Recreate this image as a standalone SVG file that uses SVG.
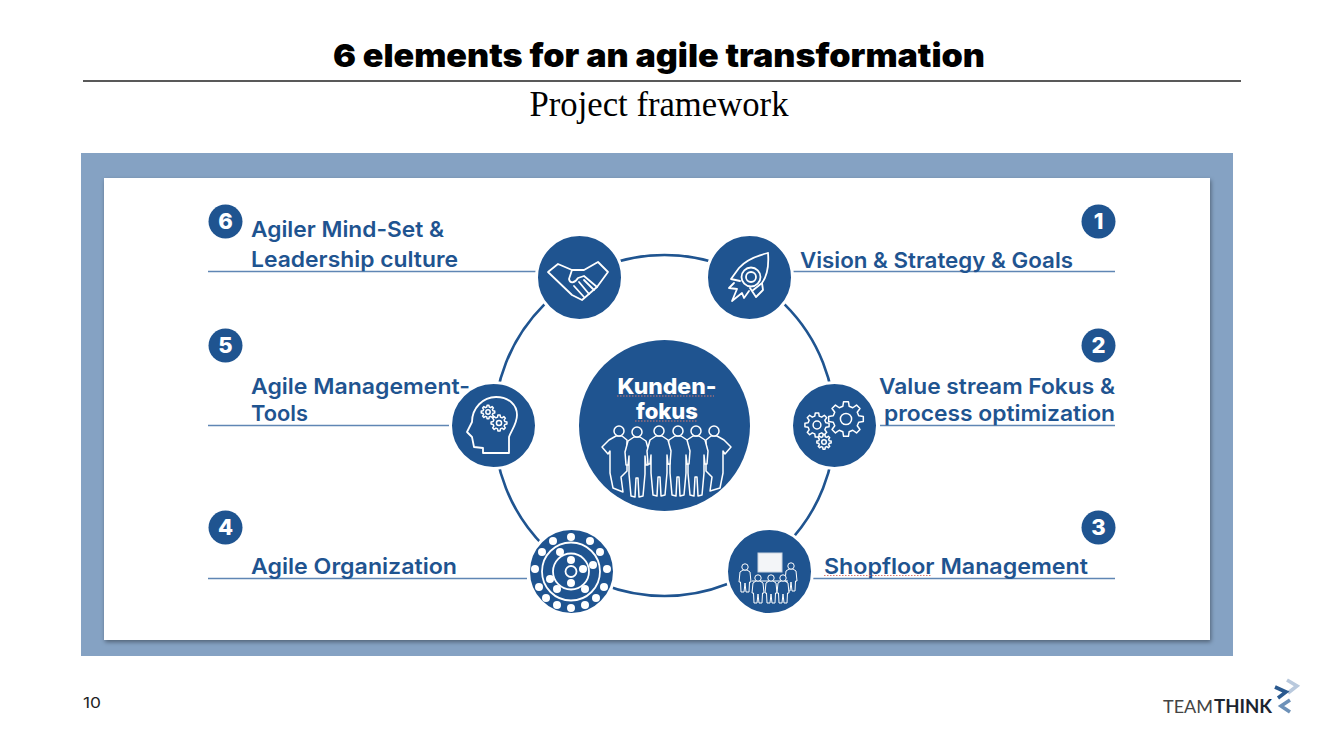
<svg xmlns="http://www.w3.org/2000/svg" width="1320" height="737" viewBox="0 0 1320 737">
  <style>
    .disc { fill: #1f5490; stroke: #fff; stroke-width: 3; }
    .ico { fill: none; stroke: #fff; stroke-width: 1.8; stroke-linejoin: round; stroke-linecap: round; }
    .icf { fill: #1f5490; stroke: #fff; stroke-width: 1.5; stroke-linejoin: round; vector-effect: non-scaling-stroke; }
    .ics { fill: #1f5490; stroke: #fff; stroke-width: 1; stroke-linejoin: round; }
    .lab { font-family: Inter, "Liberation Sans", sans-serif; font-weight: 600; font-size: 22px; fill: #1f5490; }
    .num { font-family: Inter, "Liberation Sans", sans-serif; font-weight: 800; font-size: 22px; fill: #fff; text-anchor: middle; }
    .badge { fill: #1f5490; }
    .rule { stroke: #5f86b4; stroke-width: 1.3; fill: none; }
    .dot { fill: #fff; }
    .spell { stroke: #d9796f; stroke-width: 1; stroke-dasharray: 1.5 1.5; fill: none; }
  </style>
  <defs>
    <filter id="soft" x="-5%" y="-5%" width="110%" height="110%">
      <feDropShadow dx="1" dy="2" stdDeviation="2" flood-color="#000" flood-opacity="0.4"/>
    </filter>
    <g id="gear">
      <polygon class="icf" points="7.28,-1.81 9.9,-1.39 9.9,1.39 7.28,1.81 6.43,3.86 7.99,6.02 6.02,7.99 3.86,6.43 1.81,7.28 1.39,9.9 -1.39,9.9 -1.81,7.28 -3.86,6.43 -6.02,7.99 -7.99,6.02 -6.43,3.86 -7.28,1.81 -9.9,1.39 -9.9,-1.39 -7.28,-1.81 -6.43,-3.86 -7.99,-6.02 -6.02,-7.99 -3.86,-6.43 -1.81,-7.28 -1.39,-9.9 1.39,-9.9 1.81,-7.28 3.86,-6.43 6.02,-7.99 7.99,-6.02 6.43,-3.86"/>
      <circle class="icf" r="3.2"/>
    </g>
    <!-- standing figure, head at the origin -->
    <g id="person">
      <path class="icf" d="M-3,5 L-9,9 L-12,20 L-11,33 L-9,33 L-8,24 L-8,42 L-6,64 L-2,65 L-1,46 L1,46 L2,65 L6,64 L8,42 L8,24 L9,33 L11,33 L12,20 L9,9 L3,5 Z"/>
      <circle class="icf" cx="0" cy="0" r="5"/>
    </g>
    <!-- end figures with an elbow held out -->
    <g id="person-left">
      <path class="icf" d="M-3,5 L-10,9 L-17,16 L-11,23 L-9,20 L-9,42 L-6,57 L4,61 L2,46 L8,40 L8,9 L3,5 Z"/>
      <circle class="icf" cx="0" cy="0" r="5"/>
    </g>
    <g id="person-right">
      <path class="icf" d="M-3,5 L-8,9 L-8,40 L-2,46 L-4,60 L6,57 L9,42 L9,20 L11,23 L17,16 L10,9 L3,5 Z"/>
      <circle class="icf" cx="0" cy="0" r="5"/>
    </g>
    <g id="mini">
      <path class="ics" d="M-2,3 L-5,5 L-6,15 L-4.5,15 L-4,25 L-1,25 L0,16 L1,25 L4,25 L4.5,15 L6,15 L5,5 L2,3 Z"/>
      <circle class="ics" r="3.2"/>
    </g>
  </defs>

  <!-- page heading -->
  <g id="heading">
    <text x="659" y="67" text-anchor="middle" textLength="652" lengthAdjust="spacingAndGlyphs" font-family="Inter, 'Liberation Sans', sans-serif" font-weight="900" font-size="32" fill="#000">6 elements for an agile transformation</text>
    <line x1="83" y1="81" x2="1241" y2="81" stroke="#222" stroke-width="1.4"/>
    <text x="659" y="116" text-anchor="middle" textLength="259" lengthAdjust="spacingAndGlyphs" font-family="'Liberation Serif', serif" font-size="36" fill="#000">Project framework</text>
  </g>

  <!-- panel -->
  <g id="panel">
    <rect x="81" y="153" width="1152" height="503" fill="#85a2c3"/>
    <rect x="104" y="178" width="1106" height="462" fill="#fff" filter="url(#soft)"/>
  </g>

  <!-- connectors: ring and leader rules -->
  <g id="connectors">
    <circle cx="664.5" cy="425.5" r="170.5" fill="none" stroke="#1f5490" stroke-width="2.6"/>
    <line class="rule" x1="208" y1="271.5" x2="536" y2="271.5"/>
    <line class="rule" x1="793" y1="271.5" x2="1115" y2="271.5"/>
    <line class="rule" x1="208" y1="425.5" x2="450" y2="425.5"/>
    <line class="rule" x1="880" y1="425.5" x2="1115" y2="425.5"/>
    <line class="rule" x1="208" y1="578.5" x2="527" y2="578.5"/>
    <line class="rule" x1="812" y1="578.5" x2="1115" y2="578.5"/>
  </g>

  <g id="center">
    <circle cx="664.5" cy="425.5" r="85.5" fill="#1f5490"/>
    <text x="667" y="394" text-anchor="middle" textLength="99" lengthAdjust="spacingAndGlyphs" font-family="Inter, 'Liberation Sans', sans-serif" font-weight="800" font-size="22" fill="#fff">Kunden-</text>
    <text x="667" y="419" text-anchor="middle" textLength="62" lengthAdjust="spacingAndGlyphs" font-family="Inter, 'Liberation Sans', sans-serif" font-weight="800" font-size="22" fill="#fff">fokus</text>
    <line class="spell" x1="617" y1="396" x2="714" y2="396"/>
    <line class="spell" x1="635" y1="421" x2="698" y2="421"/>
    <use href="#person-left" transform="translate(619,431)"/>
    <use href="#person-right" transform="translate(714,431)"/>
    <use href="#person" transform="translate(637,432)"/>
    <use href="#person" transform="translate(696,431)"/>
    <use href="#person" transform="translate(678,431)"/>
    <use href="#person" transform="translate(659,431)"/>
  </g>

  <g id="node-1">
    <circle class="disc" cx="749.5" cy="277.5" r="43"/>
    <path class="ico" d="M768,253 C756,256 745,261 739,268 L731,279 L740,281 M768,253 C769,265 767,276 762,283 L752,291 L750,288 M762,283 L763,290 L756,297 L752,291"/>
    <path class="ico" d="M734,283 L729,288 L737,289 L732,301 L742,293 L744,298 L749,291"/>
    <circle class="ico" cx="751" cy="277" r="9.5"/>
    <circle class="ico" cx="751" cy="277" r="5"/>
  </g>

  <g id="node-2">
    <circle class="disc" cx="834.5" cy="425.5" r="43"/>
    <use href="#gear" transform="translate(846,419) scale(1.75)"/>
    <use href="#gear" transform="translate(817,425) scale(1.22)"/>
    <use href="#gear" transform="translate(824,442) scale(.72)"/>
  </g>

  <g id="node-3">
    <circle class="disc" cx="769.5" cy="571.5" r="43"/>
    <rect x="758" y="553" width="24" height="19" fill="#f3f5f8" stroke="#c9d3e0" stroke-width="1"/>
    <use href="#mini" transform="translate(745,567)"/>
    <use href="#mini" transform="translate(791,566)"/>
    <line x1="752" y1="581" x2="788" y2="581" stroke="#fff" stroke-width="1"/>
    <use href="#mini" transform="translate(758,578)"/>
    <use href="#mini" transform="translate(771,578)"/>
    <use href="#mini" transform="translate(783,578)"/>
  </g>

  <g id="node-4">
    <circle class="disc" cx="571.5" cy="571.5" r="43"/>
    <circle class="ico" cx="571" cy="571.5" r="29" stroke-width="1.2"/>
    <circle class="ico" cx="571" cy="571.5" r="18" stroke-width="1.2"/>
    <circle class="ico" cx="571" cy="571.5" r="5.5" stroke-width="1.2"/>
    <g class="dot">
      <circle cx="571" cy="537" r="4"/><circle cx="590" cy="541" r="4"/><circle cx="600" cy="552" r="4"/><circle cx="607" cy="569" r="4"/><circle cx="604" cy="587" r="4"/><circle cx="596" cy="598" r="4"/><circle cx="585" cy="605" r="4"/><circle cx="571" cy="608" r="4"/><circle cx="557" cy="605" r="4"/><circle cx="546" cy="598" r="4"/><circle cx="539" cy="587" r="4"/><circle cx="535" cy="569" r="4"/><circle cx="542" cy="552" r="4"/><circle cx="553" cy="541" r="4"/>
      <circle cx="560" cy="552" r="4"/><circle cx="593" cy="565" r="4"/><circle cx="585" cy="589" r="4"/><circle cx="557" cy="589" r="4"/><circle cx="550" cy="579" r="4"/>
      <circle cx="571" cy="560" r="4"/><circle cx="583" cy="569" r="4"/><circle cx="571" cy="583" r="4"/>
    </g>
  </g>

  <g id="node-5">
    <circle class="disc" cx="493.5" cy="425.5" r="43"/>
    <path class="ico" d="M483,453 L483,448 L474,447 L472,437 L467,432 L472,422 C472,408 483,397 496,397 C509,397 517,405 517,415 C517,424 511,431 509,437 L509,453 Z"/>
    <use href="#gear" transform="translate(488,412) scale(.68)"/>
    <use href="#gear" transform="translate(499,423) scale(.8)"/>
  </g>

  <g id="node-6">
    <circle class="disc" cx="579.5" cy="277.5" r="43"/>
    <path class="ico" stroke-width="2" d="M548,272 L558,264 L572,270 L584,270 L598,262 L608,272 L597,287 L582,300 L572,295 Z"/>
    <path class="ico" stroke-width="2" d="M572,270 L569,279 C570,284 575,283 578,278 L584,276 L597,287"/>
    <path class="ico" stroke-width="2" d="M574,286 L584,297 M579,282 L589,294 M584,280 L594,290"/>
  </g>

  <!-- numbered labels -->
  <g id="label-1">
    <circle class="badge" cx="1098.5" cy="221.5" r="17"/><text class="num" x="1098.5" y="229">1</text>
    <text class="lab" x="800" y="268" textLength="273" lengthAdjust="spacingAndGlyphs">Vision &amp; Strategy &amp; Goals</text>
  </g>
  <g id="label-2">
    <circle class="badge" cx="1098.5" cy="345.5" r="17"/><text class="num" x="1098.5" y="353">2</text>
    <text class="lab" x="879" y="394" textLength="236" lengthAdjust="spacingAndGlyphs">Value stream Fokus &amp;</text>
    <text class="lab" x="884" y="421" textLength="231" lengthAdjust="spacingAndGlyphs">process optimization</text>
  </g>
  <g id="label-3">
    <circle class="badge" cx="1098.5" cy="527.5" r="17"/><text class="num" x="1098.5" y="535">3</text>
    <text class="lab" x="824" y="574" textLength="264" lengthAdjust="spacingAndGlyphs">Shopfloor Management</text>
    <line class="spell" x1="824" y1="575.5" x2="932" y2="575.5"/>
  </g>
  <g id="label-4">
    <circle class="badge" cx="225.5" cy="527.5" r="17"/><text class="num" x="225.5" y="535">4</text>
    <text class="lab" x="251" y="574" textLength="206" lengthAdjust="spacingAndGlyphs">Agile Organization</text>
  </g>
  <g id="label-5">
    <circle class="badge" cx="225.5" cy="345.5" r="17"/><text class="num" x="225.5" y="353">5</text>
    <text class="lab" x="251" y="394" textLength="219" lengthAdjust="spacingAndGlyphs">Agile Management-</text>
    <text class="lab" x="251" y="421" textLength="57" lengthAdjust="spacingAndGlyphs">Tools</text>
  </g>
  <g id="label-6">
    <circle class="badge" cx="225.5" cy="221.5" r="17"/><text class="num" x="225.5" y="229">6</text>
    <text class="lab" x="251" y="237" textLength="193" lengthAdjust="spacingAndGlyphs">Agiler Mind-Set &amp;</text>
    <text class="lab" x="251" y="267" textLength="207" lengthAdjust="spacingAndGlyphs">Leadership culture</text>
  </g>

  <!-- footer -->
  <g id="footer">
    <text x="83" y="708" textLength="18" lengthAdjust="spacingAndGlyphs" font-family="Inter, 'Liberation Sans', sans-serif" font-size="15" fill="#222">10</text>
    <text x="1163" y="713" font-family="Lato, 'Liberation Sans', sans-serif" font-size="18" fill="#444" textLength="50" lengthAdjust="spacingAndGlyphs">TEAM</text>
    <text x="1214" y="713" font-family="Lato, 'Liberation Sans', sans-serif" font-weight="700" font-size="18" fill="#1c2430" textLength="58" lengthAdjust="spacingAndGlyphs">THINK</text>
    <path d="M1287,680 L1297,686 L1288,693" fill="none" stroke="#b9c9dd" stroke-width="3.6"/>
    <path d="M1275,687 L1286,692 L1278,698" fill="none" stroke="#2b5a8f" stroke-width="3.6"/>
    <path d="M1290,700 L1281,706 L1290,712" fill="none" stroke="#6d91b8" stroke-width="3.6"/>
  </g>
</svg>
